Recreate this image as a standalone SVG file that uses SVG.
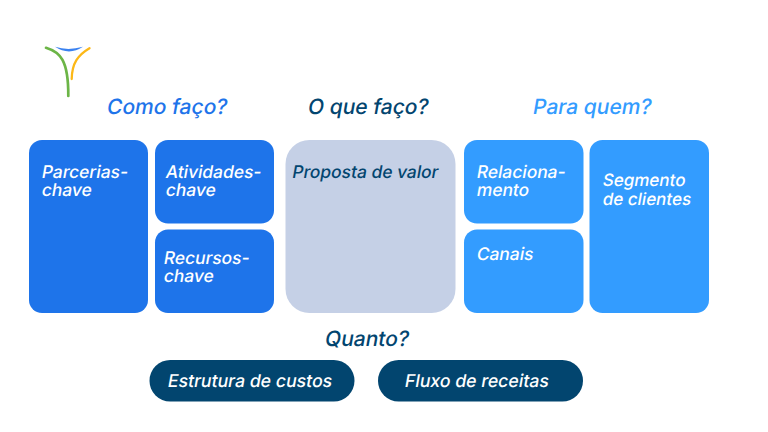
<svg xmlns="http://www.w3.org/2000/svg" width="768" height="432" viewBox="0 0 768 432">
<style>
text{font-family:Inter,"Liberation Sans",sans-serif;font-weight:500}
.h{font-size:21px}
.b{font-size:17.4px;fill:#fff}
.p{font-size:17.7px}
.s{font-size:17px}
.d{fill:#1e74ea}.l{fill:#339cff}.n{fill:#02456f}
.m{fill:none;stroke-linecap:round}
</style>
<rect width="768" height="432" fill="#fff"/>
<g id="logo">
<path d="M55 46.800Q68 51 83 46.800Q69 56 55 46.800Z" fill="#3b82f0"/>
<path class="m" d="M46 47.800C60 52 68.500 60 68.300 96" stroke="#6cb547" stroke-width="2.700"/>
<path class="m" d="M89.500 48.200C78 55 72 63 71.700 79" stroke="#fcb817" stroke-width="2.300"/>
</g>
<g id="h-como"><text class="h" transform="translate(106 114) skewX(-10)" fill="#1e74ea">Como faço?</text></g>
<g id="h-oque"><text class="h" transform="translate(307 114) skewX(-10)" fill="#02456f">O que faço?</text></g>
<g id="h-para"><text class="h" transform="translate(532 114) skewX(-10)" fill="#339cff">Para quem?</text></g>
<g id="h-quanto"><text class="h" transform="translate(324 346) skewX(-10)" fill="#02456f">Quanto?</text></g>
<g id="parcerias"><rect class="d" x="29" y="140" width="119" height="173" rx="13"/><text class="b" transform="translate(41 178) skewX(-10)">Parcerias-</text><text class="b" transform="translate(41 196) skewX(-10)">chave</text></g>
<g id="atividades"><rect class="d" x="155" y="140" width="119" height="83.500" rx="13"/><text class="b" transform="translate(165 178) skewX(-10)">Atividades-</text><text class="b" transform="translate(165 196) skewX(-10)">chave</text></g>
<g id="recursos"><rect class="d" x="155" y="229.500" width="119" height="83.500" rx="13"/><text class="b" transform="translate(163 264) skewX(-10)">Recursos-</text><text class="b" transform="translate(163 281.500) skewX(-10)">chave</text></g>
<g id="proposta"><rect x="285.500" y="140" width="170" height="173" rx="24" fill="#c5d0e6"/><text class="b" transform="translate(291.500 178) skewX(-10)" style="fill:#02456f">Proposta de valor</text></g>
<g id="relacionamento"><rect class="l" x="464" y="140" width="119.500" height="83.500" rx="13"/><text class="b" transform="translate(476 178) skewX(-10)">Relaciona-</text><text class="b" transform="translate(476 196) skewX(-10)">mento</text></g>
<g id="canais"><rect class="l" x="464" y="229.500" width="119.500" height="83.500" rx="13"/><text class="b" transform="translate(476 260) skewX(-10)">Canais</text></g>
<g id="segmento"><rect class="l" x="589.500" y="140" width="119.500" height="173" rx="13"/><text class="b s" transform="translate(602 186) skewX(-10)">Segmento</text><text class="b s" transform="translate(602 205) skewX(-10)">de clientes</text></g>
<g id="custos"><rect class="n" x="149.500" y="360" width="205" height="41.500" rx="20.700"/><text class="b p" transform="translate(167 387) skewX(-10)">Estrutura de custos</text></g>
<g id="receitas"><rect class="n" x="378" y="360" width="205" height="41.500" rx="20.700"/><text class="b p" transform="translate(404 387) skewX(-10)">Fluxo de receitas</text></g>
<g id="connectors"/>
</svg>
